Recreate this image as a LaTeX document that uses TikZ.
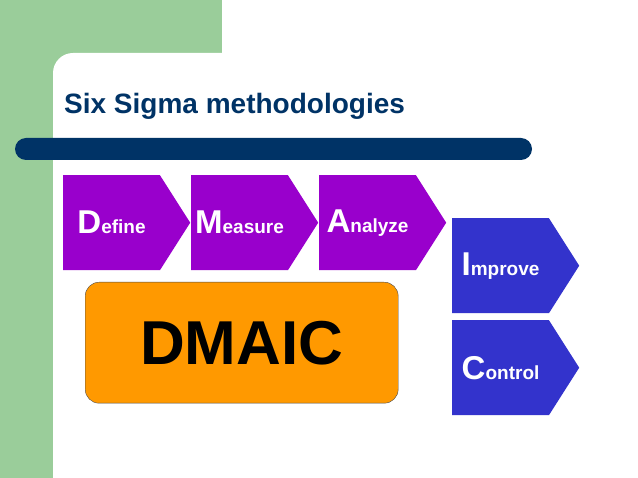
\documentclass[tikz,border=0pt]{standalone}
\usepackage{fontspec}
\setmainfont{Liberation Sans}
\usetikzlibrary{shapes.symbols}
\definecolor{leaf}{HTML}{9ACD9A}
\definecolor{navy}{HTML}{003366}
\definecolor{plum}{HTML}{9900CC}
\definecolor{indigo}{HTML}{3333CC}
\definecolor{amber}{HTML}{FF9900}
\newcommand{\stepword}[2]{{\fontsize{33}{33}\selectfont #1}{\fontsize{19}{19}\selectfont #2}}
\begin{document}
\begin{tikzpicture}[x=1pt,y=-1pt,
        phase/.style={signal, signal to=east, signal pointer angle=115,
                        draw=none, fill=plum, text=white, font=\bfseries,
                        minimum width=127pt, minimum height=95pt,
                        inner sep=0pt, anchor=north west}]
    \useasboundingbox (0,0) rectangle (638,478);
    % background
    \fill[leaf] (0,0) rectangle (638,478);
    \fill[white] (222,0) rectangle (638,53);
    \fill[white, rounded corners=20pt] (53,53) rectangle (700,520);
    % title and bar
    \node[anchor=west, text=navy, font=\bfseries\fontsize{28}{28}\selectfont, inner sep=0pt] (title) at (64,106) {Six Sigma methodologies};
    \fill[navy, rounded corners=11pt] (15,138) rectangle (532,160);
    % phases
    \node[phase] (define) at (63,175) {\stepword{D}{efine}\hspace{12pt}};
    \node[phase] (measure) at (191,175) {\stepword{M}{easure}\hspace{6pt}};
    \node[phase] (analyze) at (319,175) {\stepword{A}{nalyze}\hspace{2pt}};
    \node[phase, fill=indigo] (improve) at (452,218) {\stepword{I}{mprove}\hspace{2pt}};
    \node[phase, fill=indigo] (control) at (452,320) {\stepword{C}{ontrol}\hspace{8pt}};
    \node[draw=black!70, fill=amber, rounded corners=14pt, minimum width=313pt,
          minimum height=121pt, anchor=north west, font=\bfseries\fontsize{62}{62}\selectfont] (dmaic) at (85,282) {DMAIC};
\end{tikzpicture}
\end{document}
